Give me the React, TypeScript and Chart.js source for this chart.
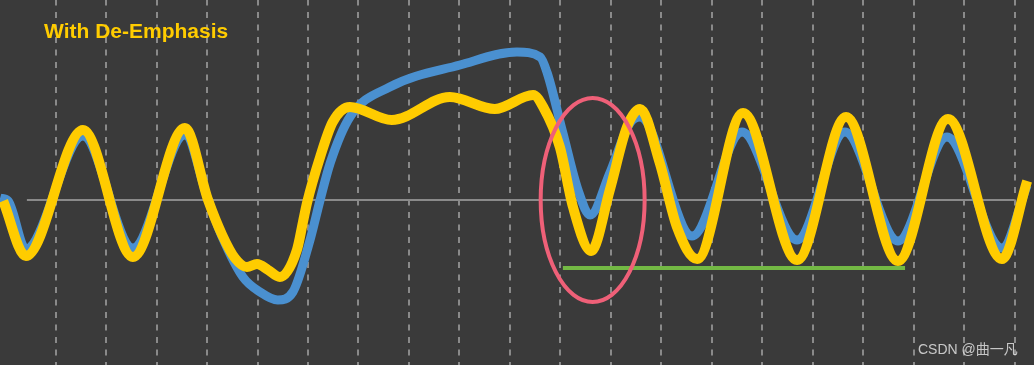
import React, { useEffect, useRef } from "react";
import { Chart, registerables } from "chart.js";

Chart.register(...registerables);

// Labels drawn on the plot
const TITLE = "With De-Emphasis";
const CREDIT = "CSDN @曲一凡";

// Time is measured in unit intervals (UI); amplitude is normalised so the
// reference level sits at 0.
const GRID_UI = [1, 2, 3, 4, 5, 6, 7, 8, 9, 10, 11, 12, 13, 14, 15, 16, 17, 18, 19, 20];

// Signal without de-emphasis (blue trace)
const RAW_T = [
  -0.1, 0.06, 0.41, 1.54, 2.53, 3.56, 4.02, 4.3, 4.71, 5.05, 5.4, 5.7, 6.04, 6.24, 6.44, 6.83,
  7.62, 9.01, 10.14, 10.6, 10.74, 11.05, 11.35, 11.59, 11.98, 12.38, 12.58, 13.61, 14.6, 15.69,
  16.64, 17.69, 18.66, 19.75, 20.25,
];
const RAW_V = [
  0.02, -0.01, -0.49, 0.64, -0.48, 0.65, 0.0, -0.37, -0.77, -0.92, -1.0, -0.92, -0.4, 0.0, 0.37, 0.83,
  1.13, 1.35, 1.48, 1.43, 1.27, 0.67, 0.1, -0.15, 0.27, 0.77, 0.83, -0.36, 0.68, -0.4,
  0.68, -0.41, 0.63, -0.48, 0.15,
];

// Signal with de-emphasis applied (yellow trace)
const DE_T = [
  -0.04, 0.41, 1.54, 2.53, 3.56, 4.02, 4.3, 4.55, 4.79, 4.99, 5.21, 5.44, 5.78, 5.9, 5.98, 6.24,
  6.49, 6.83, 7.66, 8.81, 9.7, 10.46, 10.66, 10.99, 11.25, 11.61, 11.98, 12.32, 12.58, 12.97,
  13.31, 13.71, 14.62, 15.69, 16.66, 17.69, 18.68, 19.75, 20.25,
];
const DE_V = [
  -0.01, -0.56, 0.7, -0.57, 0.72, 0.0, -0.35, -0.58, -0.67, -0.64, -0.7, -0.77, -0.5, -0.22, -0.03, 0.43,
  0.78, 0.93, 0.8, 1.03, 0.91, 1.05, 0.93, 0.53, -0.07, -0.51, 0.1, 0.73, 0.91, 0.37,
  -0.27, -0.59, 0.87, -0.6, 0.83, -0.61, 0.81, -0.59, 0.19,
];

// Reference (zero) level and the low-level marker line
const ZERO_T = [0.43, 20.0];
const ZERO_V = [0, 0];
const LOW_T = [11.05, 17.83];
const LOW_V = [-0.68, -0.68];

// Highlighted region: centre and half-extents in data units
const MARK_CENTER = [11.64, 0.0];
const MARK_HALF = [1.03, 1.02];

const X_MIN = -0.103;
const X_MAX = 20.385;
const Y_MIN = -1.65;
const Y_MAX = 2.0;

const BG = "#3a3a3a";
const BLUE = "#4a90d0";
const YELLOW = "#ffcc00";
const GREEN = "#73b944";
const RED = "#ef6078";
const GRIDC = "#8a8a8a";

const pts = (t: number[], v: number[]) => t.map((x, i) => ({ x, y: v[i] }));

const overlay = {
  id: "overlay",
  beforeDraw(chart: any) {
    const { ctx, width, height } = chart;
    ctx.save();
    ctx.fillStyle = BG;
    ctx.fillRect(0, 0, width, height);
    ctx.restore();
  },
  afterDatasetsDraw(chart: any) {
    const { ctx, scales } = chart;
    const xs = scales.x;
    const ys = scales.y;
    const cx = xs.getPixelForValue(MARK_CENTER[0]);
    const cy = ys.getPixelForValue(MARK_CENTER[1]);
    const rx = Math.abs(xs.getPixelForValue(MARK_CENTER[0] + MARK_HALF[0]) - cx);
    const ry = Math.abs(ys.getPixelForValue(MARK_CENTER[1] + MARK_HALF[1]) - cy);
    ctx.save();
    ctx.beginPath();
    ctx.ellipse(cx, cy, rx, ry, 0, 0, Math.PI * 2);
    ctx.lineWidth = 4;
    ctx.strokeStyle = RED;
    ctx.stroke();
    ctx.restore();
  },
  afterDraw(chart: any) {
    const { ctx } = chart;
    ctx.save();
    ctx.textBaseline = "alphabetic";
    ctx.textAlign = "left";
    ctx.fillStyle = YELLOW;
    ctx.font = 'bold 21px "Liberation Sans", Arial, sans-serif';
    ctx.fillText(TITLE, 44, 37.5);
    ctx.fillStyle = "rgba(225,225,225,0.85)";
    ctx.font = '14px "Liberation Sans", "Noto Sans CJK SC", sans-serif';
    ctx.fillText(CREDIT, 918, 354);
    ctx.restore();
  },
};

export default function App() {
  const canvasRef = useRef<HTMLCanvasElement | null>(null);

  useEffect(() => {
    const canvas = canvasRef.current;
    if (!canvas) return;
    const chart = new Chart(canvas, {
      type: "line",
      data: {
        datasets: [
          {
            label: "low level",
            data: pts(LOW_T, LOW_V),
            borderColor: GREEN,
            borderWidth: 4,
            pointRadius: 0,
            tension: 0,
            order: 0,
          },
          {
            label: "with de-emphasis",
            data: pts(DE_T, DE_V),
            borderColor: YELLOW,
            borderWidth: 10,
            pointRadius: 0,
            cubicInterpolationMode: "monotone",
            borderJoinStyle: "round",
            order: 1,
          },
          {
            label: "without de-emphasis",
            data: pts(RAW_T, RAW_V),
            borderColor: BLUE,
            borderWidth: 9,
            pointRadius: 0,
            cubicInterpolationMode: "monotone",
            borderJoinStyle: "round",
            order: 2,
          },
          {
            label: "reference",
            data: pts(ZERO_T, ZERO_V),
            borderColor: GRIDC,
            borderWidth: 2,
            pointRadius: 0,
            tension: 0,
            order: 3,
          },
        ],
      },
      options: {
        animation: false,
        responsive: false,
        events: [],
        layout: { padding: 0 },
        parsing: false as any,
        plugins: {
          legend: { display: false },
          tooltip: { enabled: false },
          title: { display: false },
        },
        scales: {
          x: {
            type: "linear",
            min: X_MIN,
            max: X_MAX,
            afterBuildTicks: (scale: any) => {
              scale.ticks = GRID_UI.map((value) => ({ value }));
            },
            ticks: { display: false },
            grid: {
              color: GRIDC,
              lineWidth: 2,
              drawTicks: false,
            },
            border: { display: false, dash: [6, 6.5], dashOffset: 0.5 },
          },
          y: {
            type: "linear",
            min: Y_MIN,
            max: Y_MAX,
            display: false,
          },
        },
      },
      plugins: [overlay],
    });
    return () => chart.destroy();
  }, []);

  return (
    <div style={{ position: "fixed", left: 0, top: 0, width: 1034, height: 365, background: BG }}>
      <canvas ref={canvasRef} width={1034} height={365} style={{ display: "block" }} />
    </div>
  );
}
